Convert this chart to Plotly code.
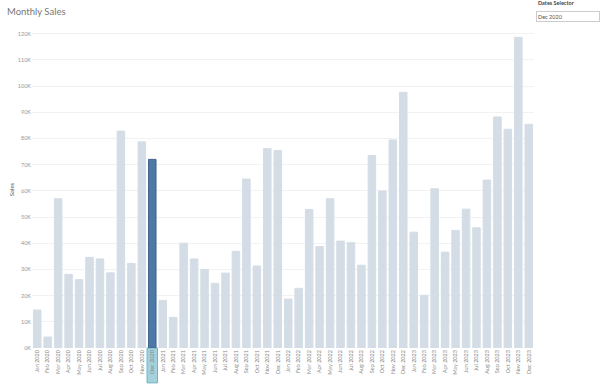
import plotly.graph_objects as go

months = ["Jan", "Feb", "Mar", "Apr", "May", "Jun", "Jul", "Aug", "Sep", "Oct", "Nov", "Dec"]
years = [2020, 2021, 2022, 2023]
categories = [f"{m} {y}" for y in years for m in months]

sales = [
    14500, 4200, 57000, 28100, 26100, 34600, 34000, 28700, 82800, 32300, 78700, 72000,
    18200, 11700, 40000, 34000, 30000, 24700, 28600, 36900, 64500, 31300, 76100, 75400,
    18700, 22800, 52900, 38700, 57000, 40800, 40200, 31600, 73500, 59900, 79400, 97600,
    44200, 20100, 60800, 36600, 44900, 53000, 45900, 64100, 88200, 83500, 118600, 85400,
]

selected = "Dec 2020"
y_ticks = list(range(0, 120001, 10000))
y_tick_labels = [f"{v // 1000}K" for v in y_ticks]

base_color = "#d4dde6"
sel_color = "#4e79a7"
colors = [sel_color if c == selected else base_color for c in categories]
line_colors = ["#41668f" if c == selected else base_color for c in categories]

fig = go.Figure(
    go.Bar(
        x=categories,
        y=sales,
        marker=dict(color=colors, line=dict(color=line_colors, width=1)),
        hovertemplate="%{x}<br>Sales: %{y}<extra></extra>",
    )
)

sel_idx = categories.index(selected)
fig.add_shape(
    type="rect", xref="x", yref="paper",
    x0=sel_idx - 0.5, x1=sel_idx + 0.5, y0=-0.11, y1=0.0,
    fillcolor="#a3d2dc", line=dict(color="#6fb3c4", width=1), layer="below",
)

fig.update_layout(
    width=602, height=385,
    margin=dict(l=32, r=68, t=31, b=37, autoexpand=False),
    plot_bgcolor="white", paper_bgcolor="white",
    font=dict(family="Lato, Open Sans, sans-serif", color="#888888", size=6),
    bargap=0.28,
    showlegend=False,
    title=dict(
        text="Monthly Sales", x=7 / 602, xref="container", xanchor="left",
        y=1 - 12 / 385, yref="container", yanchor="middle",
        font=dict(size=9.5, color="#777777", family="Lato, Open Sans, sans-serif"),
    ),
    xaxis=dict(
        categoryorder="array", categoryarray=categories, automargin=False,
        tickangle=-90, tickfont=dict(size=5.5, color="#888888"),
        showgrid=False, showline=False, ticks="", ticklen=0,
    ),
    yaxis=dict(
        range=[0, 121000], tickvals=y_ticks, ticktext=y_tick_labels, automargin=False,
        tickfont=dict(size=5.5, color="#999999"),
        showgrid=True, gridcolor="#f2f2f2", gridwidth=1,
        zeroline=False, showline=False, ticks="",
        title=dict(text="Sales", font=dict(size=6, color="#555555"), standoff=2),
    ),
    annotations=[
        dict(
            text="<b>Dates Selector</b>", xref="paper", yref="paper",
            x=1.003, y=1.088, xanchor="left", yanchor="middle", showarrow=False,
            font=dict(size=5.5, color="#444444"),
        ),
        dict(
            text="Dec 2020", xref="paper", yref="paper",
            x=1.003, y=1.045, xanchor="left", yanchor="middle", showarrow=False,
            width=60, height=7, align="left",
            bordercolor="#cccccc", borderwidth=1, borderpad=1, bgcolor="white",
            font=dict(size=5.5, color="#555555"),
        ),
    ],
)

fig.write_html(
    "out.html",
    config={"displayModeBar": False},
    post_script="document.body.style.margin='0';document.body.style.overflow='hidden';",
)
